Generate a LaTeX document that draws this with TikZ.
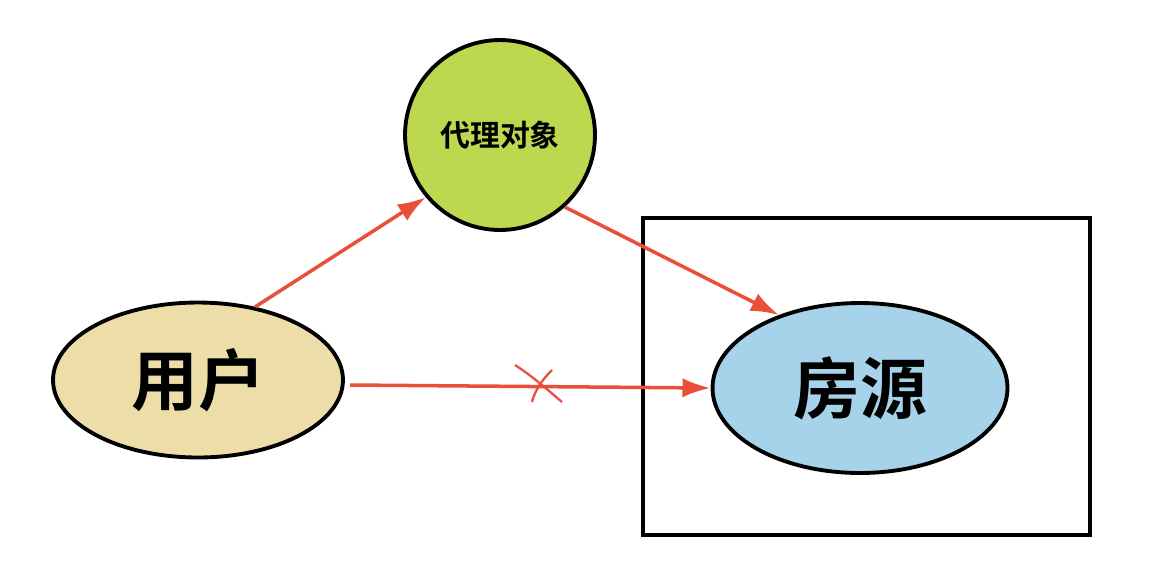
\documentclass[tikz,border=0pt]{standalone}
\usepackage{fontspec}
\newfontfamily\cjk{Noto Sans CJK SC}[BoldFont={* Bold}]
\usetikzlibrary{shapes.geometric,arrows.meta}
\definecolor{beige}{HTML}{EDDDA9}
\definecolor{lime}{HTML}{BDD74F}
\definecolor{sky}{HTML}{A6D3EA}
\definecolor{arr}{HTML}{E8503A}
\tikzset{
 ell/.style={ellipse,draw=black,line width=2.2pt,inner sep=0pt},
 redarr/.style={draw=arr,line width=2pt,-{Latex[length=16pt,width=11pt]}},
}
\begin{document}
\begin{tikzpicture}[x=0.02cm,y=-0.02cm]
\useasboundingbox (0,0) rectangle (1168,576);
\draw[line width=2.2pt] (643,218) rectangle (1090,535);
\node[ell,fill=beige,minimum width=5.8cm,minimum height=3.1cm] (user) at (198,380) {\cjk\bfseries\fontsize{38}{38}\selectfont 用户};
\node[ell,fill=lime,circle,minimum size=3.8cm] (proxy) at (500,135) {\cjk\bfseries\fontsize{17}{17}\selectfont 代理对象};
\node[ell,fill=sky,minimum width=5.9cm,minimum height=3.4cm] (house) at (860,388) {\cjk\bfseries\fontsize{38}{38}\selectfont 房源};
\draw[redarr] (user.52) -- (proxy.220);
\draw[redarr] (proxy.-48) -- (house.138);
\coordinate (s) at (350,385);
\draw[redarr] (s) -- (house.west);
\draw[arr,line width=1.3pt] (515,365) .. controls (535,378) and (550,392) .. (562,402);
\draw[arr,line width=1.3pt] (552,370) .. controls (542,380) and (535,390) .. (532,402);
\end{tikzpicture}
\end{document}
